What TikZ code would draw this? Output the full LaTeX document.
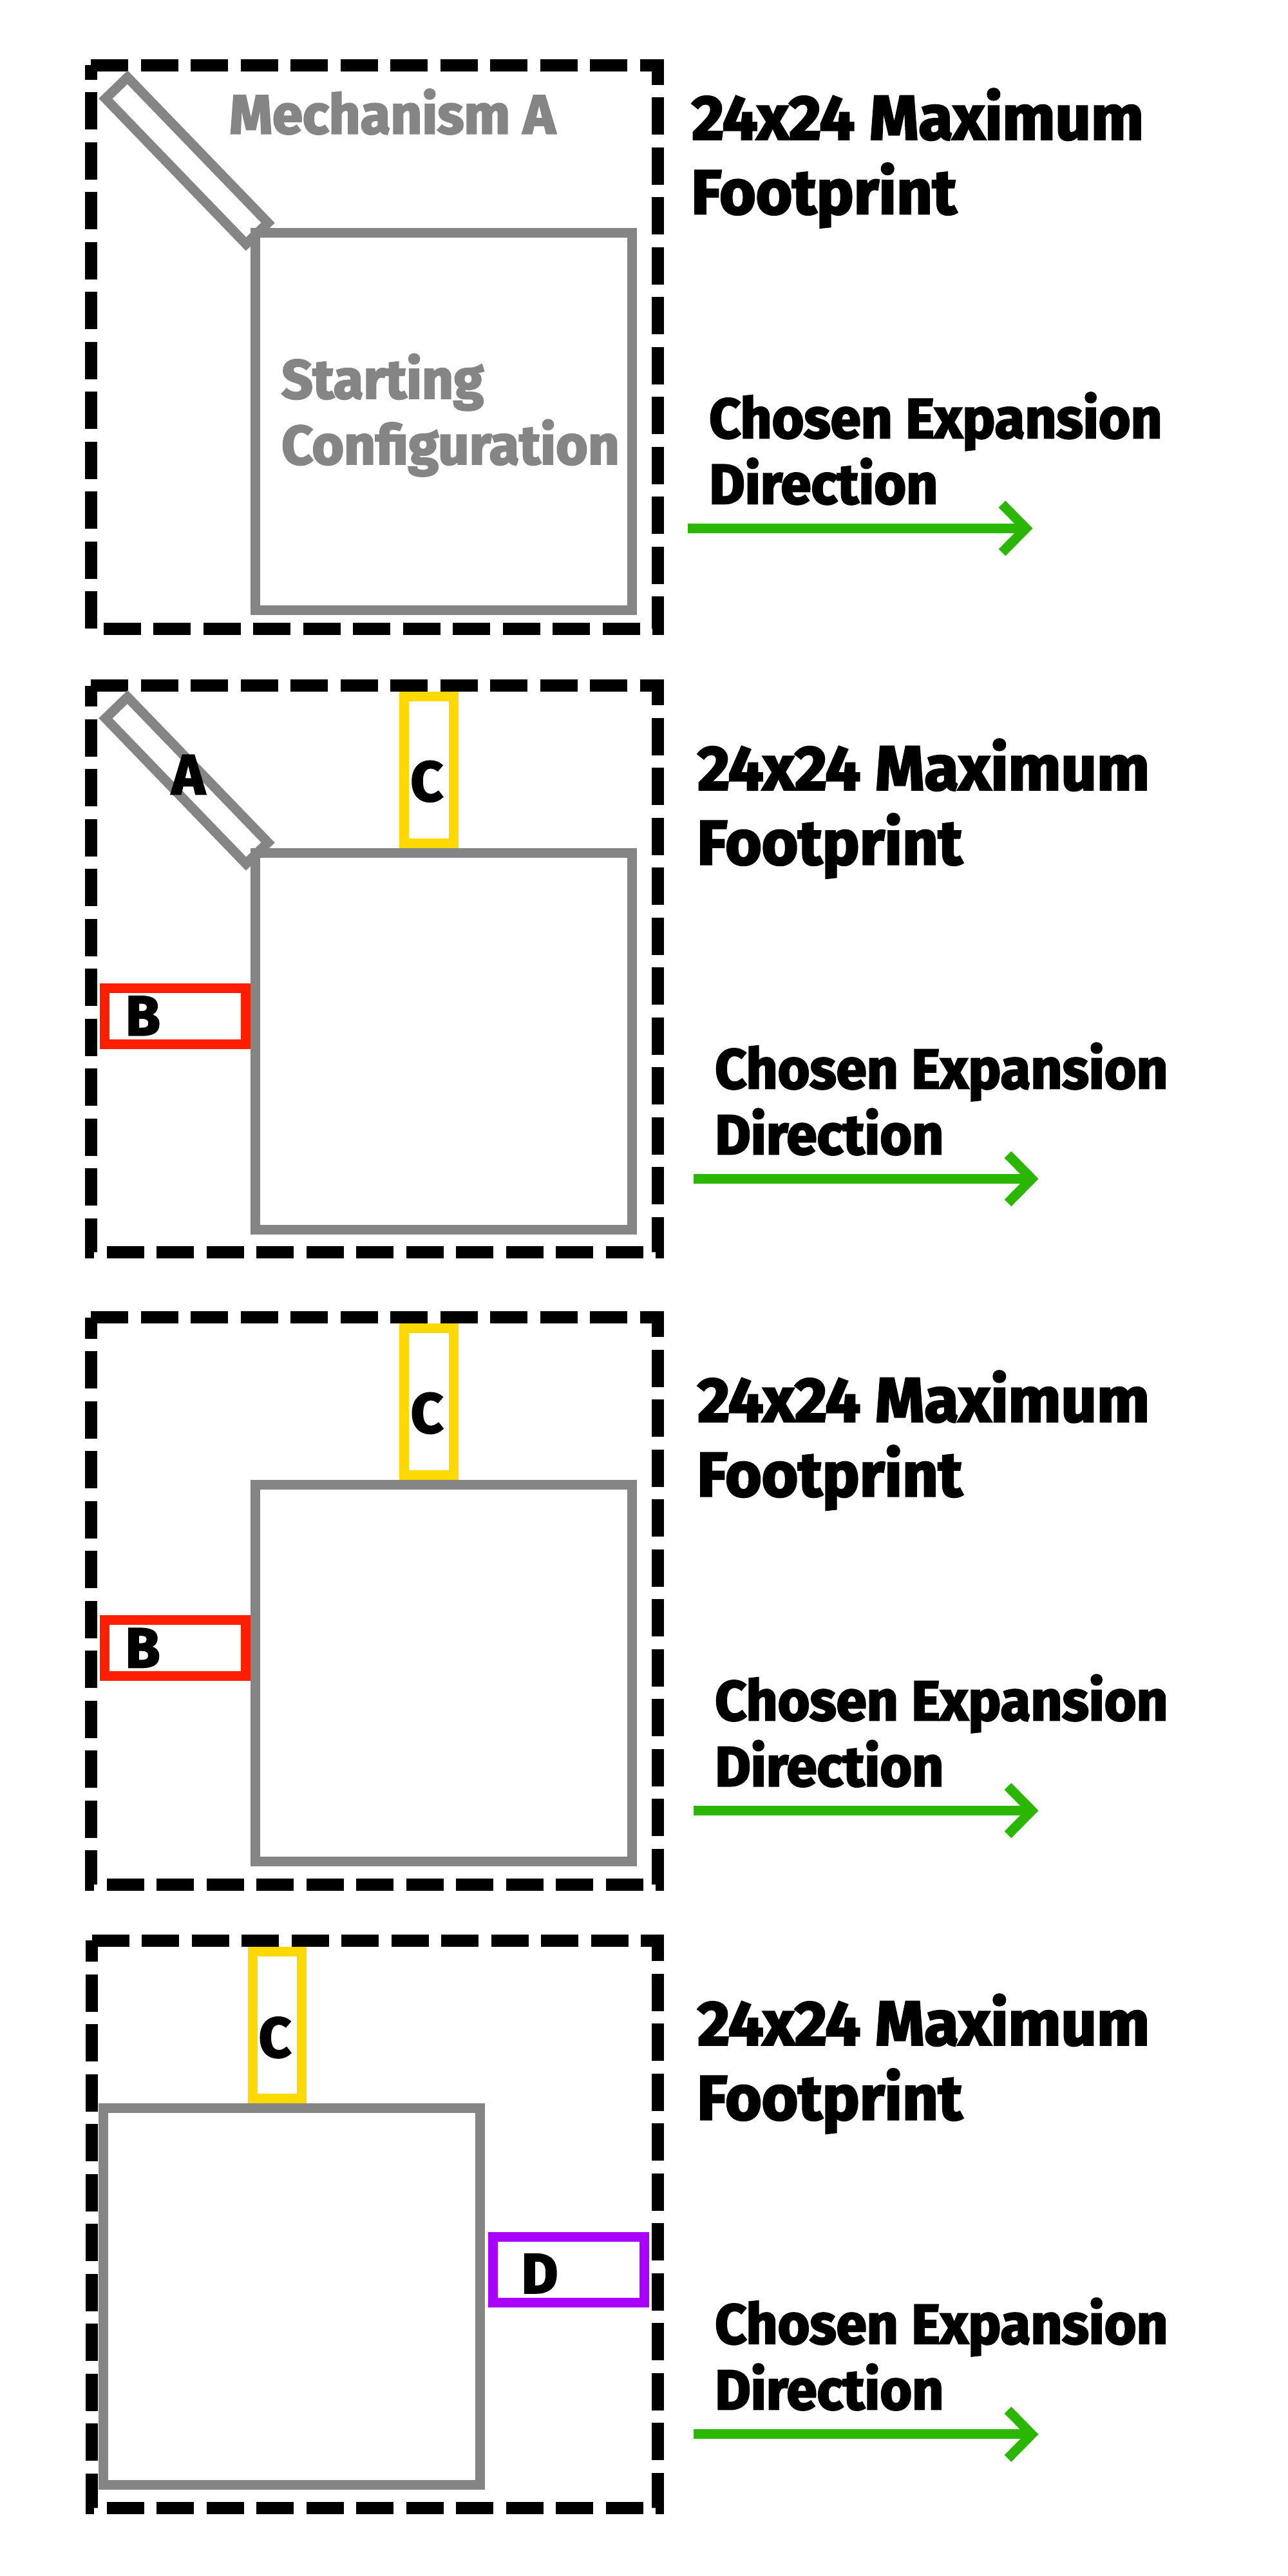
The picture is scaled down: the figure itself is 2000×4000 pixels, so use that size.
\documentclass[tikz,border=0pt]{standalone}
\usepackage{fontspec}
\setmainfont{Fira Sans}[BoldFeatures={FakeBold=3}]
\newfontfamily\dirfont{Fira Sans}[BoldFeatures={FakeBold=3,FakeStretch=0.98}]
\definecolor{mgray}{RGB}{133,133,133}
\definecolor{myellow}{RGB}{255,217,0}
\definecolor{mred}{RGB}{255,31,0}
\definecolor{mpurple}{RGB}{170,0,255}
\definecolor{mgreen}{RGB}{43,182,0}
\begin{document}
\begin{tikzpicture}[x=1pt,y=-1pt,
  frame/.style={draw=black, line width=19pt, dash pattern=on 58pt off 19.5pt},
  basebox/.style={draw=mgray, line width=15pt, fill=white},
  mechbox/.style={draw=mgray, line width=15pt, fill=white},
  cbox/.style={draw=myellow, line width=15pt},
  bbox/.style={draw=mred, line width=15pt},
  dbox/.style={draw=mpurple, line width=15pt},
  graytxt/.style={anchor=base west, inner sep=0pt, text=mgray, font=\fontsize{85}{100}\selectfont\bfseries},
  titletxt/.style={anchor=base west, inner sep=0pt, text=black, font=\fontsize{97}{115}\selectfont\bfseries},
  dirtxt/.style={anchor=base west, inner sep=0pt, text=black, font=\dirfont\fontsize{87}{102}\selectfont\bfseries},
  lbl/.style={anchor=base, inner sep=0pt, text=black, font=\fontsize{87}{100}\selectfont\bfseries},
  grnline/.style={draw=mgreen, line width=15pt}
]
\useasboundingbox[fill=white] (0,0) rectangle (2000,4000);

% ---------- Panel 1 ----------
\draw[frame] (141,101) -- (1021,101) -- (1021,976) -- (141,976) -- cycle;
\begin{scope}[shift={(290,249.5)}, rotate=-46]
  \draw[mechbox] (-157,-23.7) rectangle (157,23.7);
\end{scope}
\draw[basebox] (396,361.6) rectangle (981,947.2);
\node[graytxt] (mechA) at (356,207.3) {Mechanism A};
\node[graytxt] (startA) at (437,618.6) {Starting};
\node[graytxt] (startB) at (437,720.7) {Configuration};
\node[titletxt] (t1a) at (1074,216.3) {24x24 Maximum};
\node[titletxt] (t1b) at (1073,332) {Footprint};
\node[dirtxt] (d1a) at (1101,680) {Chosen Expansion};
\node[dirtxt] (d1b) at (1101,782) {Direction};
\coordinate (s1) at (1068,820.4);
\coordinate (e1) at (1593,820.4);
\draw[grnline] (s1) -- (e1);
\draw[grnline] ([shift={(-37,-37.5)}]e1) -- (e1) -- ([shift={(-37,37.5)}]e1);

% ---------- Panel 2 ----------
\draw[frame] (141,1064.7) -- (1021,1064.7) -- (1021,1944.8) -- (141,1944.8) -- cycle;
\begin{scope}[shift={(290,1211.8)}, rotate=-46]
  \draw[mechbox] (-157,-23.7) rectangle (157,23.7);
\end{scope}
\draw[basebox] (396,1324) rectangle (981,1909.6);
\draw[cbox] (627,1081) rectangle (704,1309);
\draw[bbox] (162,1534.4) rectangle (381.5,1621.8);
\node[lbl] (a2) at (292.5,1233) {A};
\node[lbl] (c2) at (662.7,1243.5) {C};
\node[lbl] (b2) at (221.8,1607.4) {B};
\node[titletxt] (t2a) at (1083,1226.3) {24x24 Maximum};
\node[titletxt] (t2b) at (1082,1342.1) {Footprint};
\node[dirtxt] (d2a) at (1110,1690.1) {Chosen Expansion};
\node[dirtxt] (d2b) at (1110,1792.1) {Direction};
\coordinate (s2) at (1077,1830.4);
\coordinate (e2) at (1602,1830.4);
\draw[grnline] (s2) -- (e2);
\draw[grnline] ([shift={(-37,-37.5)}]e2) -- (e2) -- ([shift={(-37,37.5)}]e2);

% ---------- Panel 3 ----------
\draw[frame] (141,2045.8) -- (1021,2045.8) -- (1021,2926) -- (141,2926) -- cycle;
\draw[basebox] (396,2305.5) rectangle (981.6,2890.4);
\draw[cbox] (627,2062) rectangle (704,2290.5);
\draw[bbox] (162,2515.5) rectangle (381.5,2602.4);
\node[lbl] (c3) at (663,2224.5) {C};
\node[lbl] (b3) at (221.5,2589) {B};
\node[titletxt] (t3a) at (1083,2207.3) {24x24 Maximum};
\node[titletxt] (t3b) at (1082,2323.2) {Footprint};
\node[dirtxt] (d3a) at (1110,2671.1) {Chosen Expansion};
\node[dirtxt] (d3b) at (1110,2773.2) {Direction};
\coordinate (s3) at (1077,2811.4);
\coordinate (e3) at (1602,2811.4);
\draw[grnline] (s3) -- (e3);
\draw[grnline] ([shift={(-37,-37.5)}]e3) -- (e3) -- ([shift={(-37,37.5)}]e3);

% ---------- Panel 4 ----------
\draw[frame] (142.6,3013.3) -- (1021.2,3013.3) -- (1021.2,3894.9) -- (142.6,3894.9) -- cycle;
\draw[basebox] (160.8,3273.5) rectangle (745.2,3858.2);
\draw[cbox] (392,3030) rectangle (468,3258.5);
\draw[dbox] (765,3473.5) rectangle (1000,3575.3);
\node[lbl] (c4) at (426.9,3194) {C};
\node[lbl] (d4) at (837.9,3560.4) {D};
\node[titletxt] (t4a) at (1083,3175.3) {24x24 Maximum};
\node[titletxt] (t4b) at (1082,3291.1) {Footprint};
\node[dirtxt] (d4a) at (1110,3639.1) {Chosen Expansion};
\node[dirtxt] (d4b) at (1110,3741.1) {Direction};
\coordinate (s4) at (1077,3779.9);
\coordinate (e4) at (1602,3779.9);
\draw[grnline] (s4) -- (e4);
\draw[grnline] ([shift={(-37,-37.5)}]e4) -- (e4) -- ([shift={(-37,37.5)}]e4);
\end{tikzpicture}
\end{document}
